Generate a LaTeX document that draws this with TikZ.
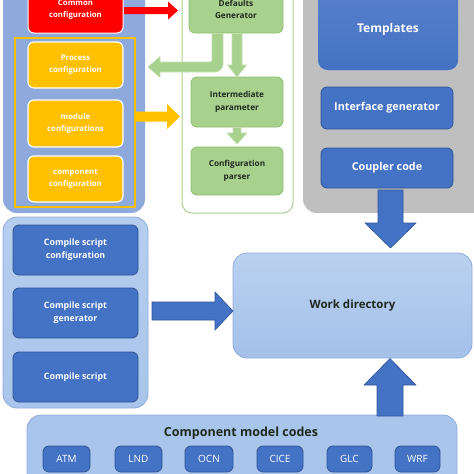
\documentclass[tikz,border=0pt]{standalone}
\usepackage{fontspec}
\setmainfont{Open Sans}
\usetikzlibrary{calc}
\definecolor{lav}{HTML}{8EA9DB}
\definecolor{redc}{HTML}{FF0000}
\definecolor{yel}{HTML}{FFC000}
\definecolor{grn}{HTML}{A9D18E}
\definecolor{grnd}{HTML}{8DBF6E}
\definecolor{gry}{HTML}{BFBFBF}
\definecolor{dblue}{HTML}{4472C4}
\definecolor{dblued}{HTML}{2F5597}
\definecolor{lblue}{HTML}{A9C5EB}
\definecolor{lblued}{HTML}{8FAADC}
\definecolor{txt}{HTML}{1E2A1E}
\tikzset{
  rb/.style={rounded corners=6pt, inner sep=0pt, align=center, font=\bfseries\fontsize{7.8}{12}\selectfont},
  redbox/.style={rb, fill=redc, draw=white, line width=1pt, text=white},
  yelbox/.style={rb, fill=yel, draw=white, line width=1.2pt, text=white},
  grnbox/.style={rb, fill=grn, draw=grnd, line width=0.8pt, text=txt, font=\bfseries\fontsize{8.2}{12.5}\selectfont},
  bluebox/.style={rb, fill=dblue, draw=dblued, line width=0.8pt, text=white},
  codebox/.style={rb, fill=dblue, draw=dblued, line width=0.8pt, text=white, font=\fontsize{10}{12}\selectfont, minimum height=26pt},
  panel/.style={rounded corners=14pt, inner sep=0pt},
  blk/.style={fill=dblue, draw=dblued, line width=0.6pt},
  garr/.style={fill=grn, draw=grn!70!white, line width=0.6pt},
}
\begin{document}
\begin{tikzpicture}[x=1pt,y=-1pt]
\useasboundingbox (0,0) rectangle (474,474);
\clip (0,0) rectangle (474,474);
% panels
\node[panel, fill=lav, minimum width=142pt, minimum height=233pt] (leftpanel) at (74,96.5) {};
\node[panel, rounded corners=10pt, fill=white, draw=grn, line width=1pt, minimum width=111pt, minimum height=230pt] (greenpanel) at (237.5,98) {};
\node[panel, fill=gry, minimum width=187pt, minimum height=233pt] (graypanel) at (396.5,96.5) {};
\node[panel, top color=lblue!85!white, bottom color=lblue, draw=lblued, line width=0.8pt, minimum width=145pt, minimum height=191pt] (compilepanel) at (75.5,312.5) {};
\node[panel, top color=lblue!80!white, bottom color=lblue!95!dblue, draw=lblued, line width=0.8pt, minimum width=239pt, minimum height=105pt, font=\bfseries\fontsize{11.5}{13}\selectfont, text=txt] (work) at (352.5,305.5) {Work directory};
\node[panel, fill=lblue, draw=lblued, line width=0.8pt, minimum width=430pt, minimum height=90pt] (comppanel) at (242,460) {};
% left config column
\node[redbox, minimum width=95pt, minimum height=46pt] (common) at (75.5,10) {Common\\configuration};
\draw[yel, line width=1.3pt] (15,38) rectangle (135,207);
\node[yelbox, minimum width=95pt, minimum height=46pt] (process) at (75.5,65) {Process\\configuration};
\node[yelbox, minimum width=95pt, minimum height=47pt] (module) at (75.5,123.5) {module\\configurations};
\node[yelbox, minimum width=95pt, minimum height=46pt] (component) at (75.5,179) {component\\configuration};
% green column
\node[grnbox, minimum width=94pt, minimum height=47pt] (defgen) at (236,9.5) {Defaults\\Generator};
\node[grnbox, minimum width=92pt, minimum height=50pt] (inter) at (237,102) {Intermediate\\parameter};
\node[grnbox, minimum width=92pt, minimum height=48pt] (parser) at (237,171) {Configuration\\parser};
% gray column
\node[bluebox, rounded corners=10pt, top color=dblue!90!white, bottom color=dblue, draw=none, minimum width=140pt, minimum height=82pt, font=\bfseries\fontsize{12}{14}\selectfont] (templates) at (388,29) {Templates};
\node[bluebox, minimum width=132pt, minimum height=42pt, font=\bfseries\fontsize{10.8}{12}\selectfont] (iface) at (387,108) {Interface generator};
\node[bluebox, minimum width=132pt, minimum height=40pt, font=\bfseries\fontsize{10.8}{12}\selectfont] (coupler) at (387,168) {Coupler code};
% compile column
\node[bluebox, minimum width=125pt, minimum height=50pt, font=\bfseries\fontsize{8.8}{13}\selectfont] (csconf) at (75.5,250) {Compile script\\configuration};
\node[bluebox, minimum width=125pt, minimum height=50pt, font=\bfseries\fontsize{8.8}{13}\selectfont] (csgen) at (75.5,313) {Compile script\\generator};
\node[bluebox, minimum width=125pt, minimum height=50pt, font=\bfseries\fontsize{8.8}{13}\selectfont] (cs) at (75.5,377) {Compile script};
% component model codes
\node[font=\bfseries\fontsize{12.5}{14}\selectfont, text=txt, inner sep=0pt] (cmclabel) at (241,433) {Component model codes};
\node[codebox, minimum width=47pt] (atm) at (66.5,459) {ATM};
\node[codebox, minimum width=47pt] (lnd) at (138.5,459) {LND};
\node[codebox, minimum width=48pt] (ocn) at (209,459) {OCN};
\node[codebox, minimum width=46pt] (cice) at (280,459) {CICE};
\node[codebox, minimum width=45pt] (glc) at (349.5,459) {GLC};
\node[codebox, minimum width=45pt] (wrf) at (417.5,459) {WRF};
% arrows
% red: common -> defaults generator
\fill[redc] (124,7) -- (168,7) -- (168,1.5) -- (178,10.5) -- (168,19.5) -- (168,14) -- (124,14) -- cycle;
% yellow frame -> intermediate
\fill[yel] (135,111.5) -- (167,111.5) -- (167,104) -- (180,116.5) -- (167,129) -- (167,121.5) -- (135,121.5) -- cycle;
% green: defaults -> intermediate
\filldraw[garr] (232,33.5) -- (242,33.5) -- (242,65) -- (246.5,65) -- (237,77) -- (227.5,65) -- (232,65) -- cycle;
% green: intermediate -> parser
\filldraw[garr] (233,127.5) -- (241,127.5) -- (241,133) -- (247,133) -- (237,144) -- (227,133) -- (233,133) -- cycle;
% green elbow: defaults -> process configuration
\filldraw[garr] (212,33.5) -- (223,33.5) -- (223,64) to[out=-90,in=0] (215,72) -- (160,72) -- (160,77.5) -- (148,67) -- (160,56.5) -- (160,62) -- (210,62) to[out=0,in=-90] (212,60) -- cycle;
% blue: coupler -> work directory
\filldraw[blk] (378,190) -- (403,190) -- (403,223) -- (416,223) -- (390.5,248) -- (365,223) -- (378,223) -- cycle;
% blue: compile panel -> work directory
\filldraw[blk] (152,302) -- (215,302) -- (215,292) -- (233,311) -- (215,330) -- (215,320) -- (152,320) -- cycle;
% blue: component codes -> work directory
\filldraw[blk] (377,416) -- (377,385) -- (364,385) -- (390,358.5) -- (416,385) -- (403,385) -- (403,416) -- cycle;
\end{tikzpicture}
\end{document}
